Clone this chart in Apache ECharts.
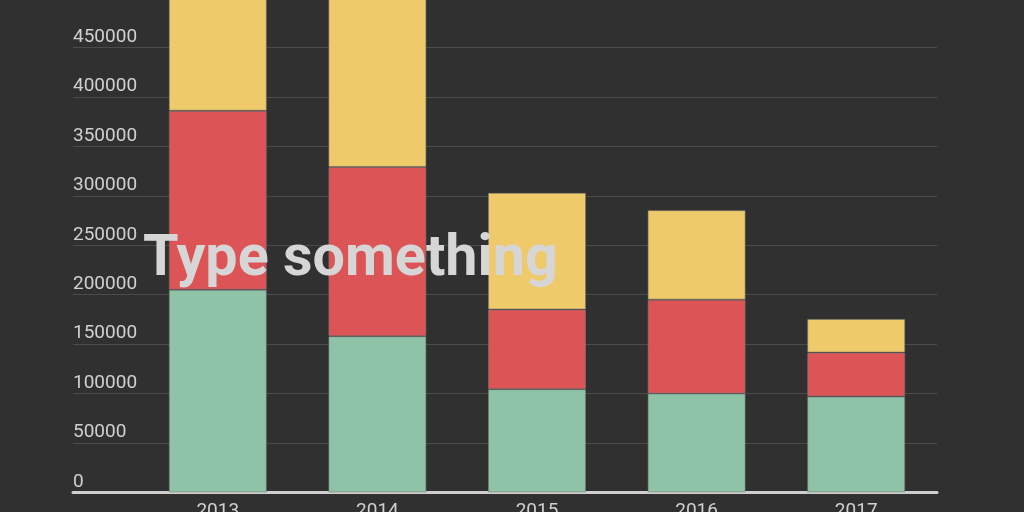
<!DOCTYPE html>
<html>
<head>
<meta charset="utf-8">
<script src="https://cdn.jsdelivr.net/npm/echarts@6/dist/echarts.min.js"></script>
<style>
html,body{margin:0;padding:0;background:#303030;}
#chart{width:1024px;height:512px;}
</style>
</head>
<body>
<div id="chart"></div>
<script>
var categories = ['2013', '2014', '2015', '2016', '2017'];
var seriesGreen = [205000, 158000, 104500, 100000, 97000];
var seriesRed = [181000, 171000, 80500, 95000, 44500];
var seriesYellow = [150000, 200000, 118000, 90500, 34000];
var yTicks = [0, 50000, 100000, 150000, 200000, 250000, 300000, 350000, 400000, 450000, 500000];
var titleText = 'Type something';

var chart = echarts.init(document.getElementById('chart'));
var yMin = yTicks[0], yMax = yTicks[yTicks.length - 1], yStep = yTicks[1] - yTicks[0];
var barBorder = 'rgba(120,120,120,0.55)';
function barSeries(name, data, color) {
  return {
    name: name, type: 'bar', stack: 'total', xAxisIndex: 1, yAxisIndex: 1,
    barWidth: 98, data: data, z: 3,
    itemStyle: { color: color, borderColor: barBorder, borderWidth: 1 }
  };
}
chart.setOption({
  backgroundColor: '#303030',
  animation: false,
  textStyle: { fontFamily: 'Roboto' },
  title: {
    text: titleText, left: 138, top: 227, z: 10,
    textStyle: { color: '#d6d6d6', fontSize: 57.5, fontWeight: 'bold', fontFamily: 'Roboto' }
  },
  grid: [
    { left: 73, right: 87, top: -2, bottom: 19.5, outerBoundsMode: 'none', containLabel: false },
    { left: 138, right: 88, top: -2, bottom: 19.5, outerBoundsMode: 'none', containLabel: false }
  ],
  xAxis: [
    { gridIndex: 0, type: 'value', min: 0, max: 1, show: true,
      axisLine: { show: true, onZero: false, lineStyle: { color: '#cfcfcf', width: 3 } },
      axisTick: { show: false }, axisLabel: { show: false }, splitLine: { show: false } },
    { gridIndex: 1, type: 'category', data: categories,
      axisLine: { show: false }, axisTick: { show: false },
      axisLabel: { color: '#d0d0d0', fontSize: 19, margin: 9, fontFamily: 'Roboto' } }
  ],
  yAxis: [
    { gridIndex: 0, type: 'value', min: yMin, max: yMax, interval: yStep,
      axisLine: { show: false }, axisTick: { show: false },
      axisLabel: { inside: true, margin: 0, color: '#d0d0d0', fontSize: 19, fontFamily: 'Roboto',
        align: 'left', verticalAlign: 'bottom', padding: [0, 0, 1, 0],
        formatter: function (v) { return String(v); } },
      splitLine: { lineStyle: { color: '#4b4b4b', width: 1 } } },
    { gridIndex: 1, type: 'value', min: yMin, max: yMax, interval: yStep, show: false,
      splitLine: { show: false } }
  ],
  series: [
    barSeries('Green', seriesGreen, '#8ec3a8'),
    barSeries('Red', seriesRed, '#dc5455'),
    barSeries('Yellow', seriesYellow, '#efca6a')
  ]
});
</script>
</body>
</html>
